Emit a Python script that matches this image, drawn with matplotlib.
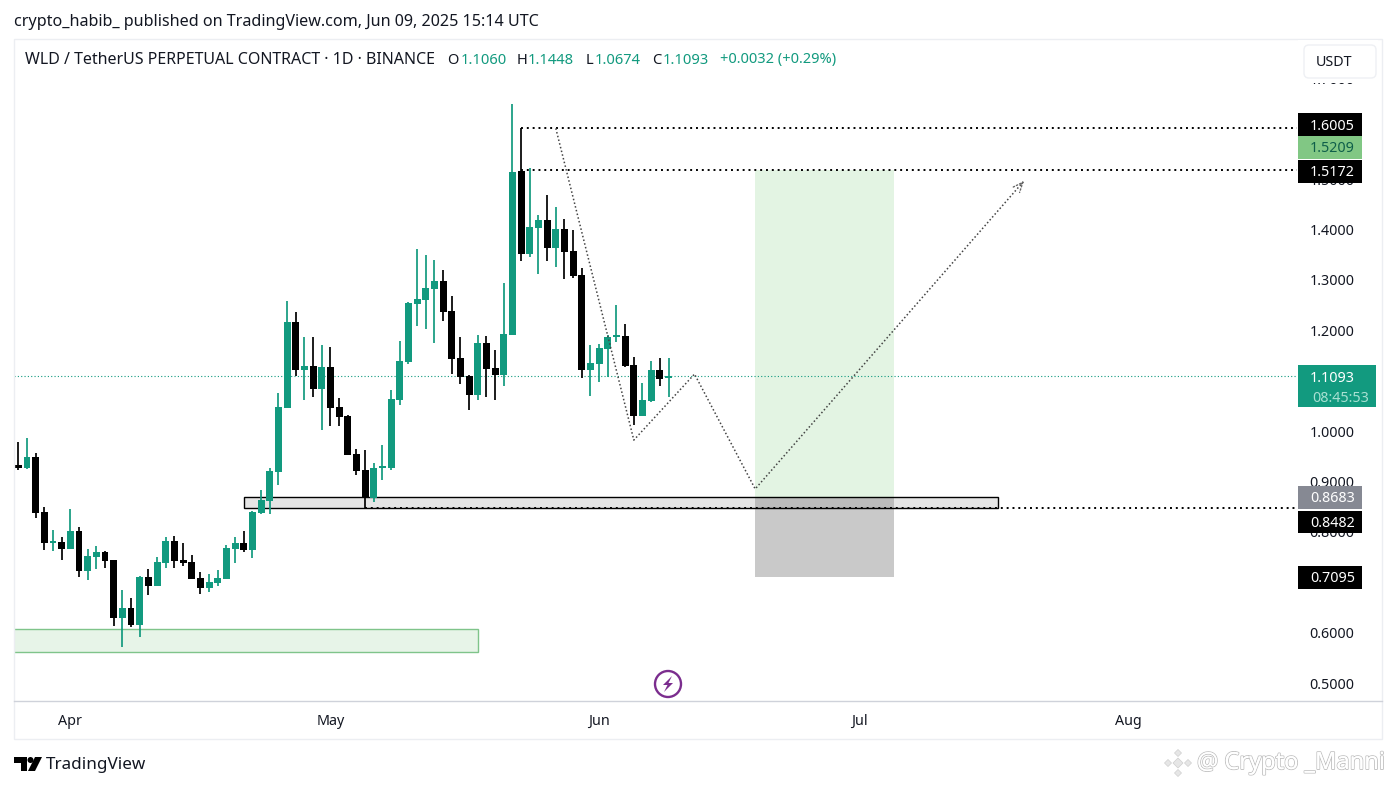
import matplotlib
matplotlib.use("Agg")
import pandas as pd
from matplotlib import pyplot as plt
from matplotlib import dates as mdates
from matplotlib import patheffects as pe
from matplotlib.patches import Rectangle, FancyBboxPatch, Circle, Polygon

plt.rcParams['font.family'] = ['Noto Sans', 'DejaVu Sans']

W, H = 1396, 787
GREEN = "#129a7f"
INK = "#131722"

START_DATE = "2025-03-26"
OPENS = [.933, .927, .949, .839, .778, .780, .766, .802, .722, .750, .760, .744, .629, .649, .615, .711,
         .693, .738, .782, .744, .740, .708, .689, .699, .707, .766, .778, .764, .838, .861, .919, 1.046,
         1.216, 1.121, 1.129, 1.084, 1.127, 1.048, 1.030, .955, .923, .867, .927, .927, 1.062, 1.137,
         1.252, 1.260, 1.282, 1.298, 1.238, 1.145, 1.109, 1.072, 1.175, 1.125, 1.111, 1.191, 1.516, 1.351,
         1.403, 1.419, 1.363, 1.401, 1.357, 1.310, 1.121, 1.133, 1.163, 1.187, 1.189, 1.131, 1.030, 1.060,
         1.121, 1.106]
HIGHS = [.979, .987, .956, .850, .804, .790, .846, .810, .766, .772, .762, .745, .685, .669, .712, .726,
         .750, .790, .792, .778, .754, .720, .716, .724, .774, .790, .802, .841, .883, .926, 1.076, 1.258,
         1.236, 1.187, 1.187, 1.171, 1.167, 1.066, 1.032, .965, .963, .936, .973, 1.082, 1.179, 1.256,
         1.361, 1.349, 1.339, 1.320, 1.268, 1.187, 1.111, 1.191, 1.189, 1.161, 1.294, 1.649, 1.6005, 1.522,
         1.429, 1.468, 1.445, 1.421, 1.399, 1.324, 1.171, 1.173, 1.191, 1.250, 1.213, 1.147, 1.096, 1.139,
         1.145, 1.1448]
LOWS = [.923, .925, .828, .764, .762, .744, .765, .711, .705, .726, .728, .613, .572, .611, .592, .675,
        .692, .728, .728, .732, .706, .677, .681, .693, .706, .738, .760, .748, .836, .836, .893, 1.045,
        1.109, 1.062, 1.068, 1.002, 1.010, 1.010, .952, .913, .8482, .859, .903, .923, 1.052, 1.133,
        1.208, 1.203, 1.174, 1.218, 1.113, 1.093, 1.042, 1.062, 1.068, 1.062, 1.090, 1.190, 1.338, 1.345,
        1.312, 1.338, 1.326, 1.302, 1.304, 1.106, 1.070, 1.098, 1.108, 1.177, 1.127, 1.012, 1.030, 1.058,
        1.090, 1.0674]
CLOSES = [.927, .949, .838, .777, .780, .766, .802, .722, .752, .760, .742, .629, .649, .615, .711, .693,
          .740, .782, .742, .738, .707, .689, .701, .708, .768, .778, .764, .839, .863, .921, 1.048, 1.216,
          1.122, 1.129, 1.084, 1.127, 1.046, 1.028, .953, .921, .867, .927, .929, 1.064, 1.139, 1.254,
          1.262, 1.284, 1.298, 1.236, 1.143, 1.107, 1.072, 1.175, 1.123, 1.111, 1.193, 1.514, 1.351, 1.405,
          1.419, 1.363, 1.401, 1.355, 1.308, 1.121, 1.135, 1.165, 1.187, 1.189, 1.129, 1.030, 1.062, 1.121,
          1.104, 1.1093]

PRICE_TICKS = [0.5, 0.6, 0.7, 0.8, 0.9, 1.0, 1.1, 1.2, 1.3, 1.4, 1.5, 1.6, 1.7]
LAST_PRICE = 1.1093
TARGET = 1.5172
HIGH_LINE = 1.6005
ENTRY = 0.8683
SUPPORT = 0.8482
STOP = 0.7095

ZIGZAG_DATES = ["2025-05-27", "2025-06-05", "2025-06-12", "2025-06-19", "2025-07-20"]
ZIGZAG_PRICES = [1.6005, 0.982, 1.113, 0.885, 1.496]


dates = pd.date_range(START_DATE, periods=len(OPENS))
x = mdates.date2num(dates)
num = lambda s: mdates.date2num(pd.Timestamp(s))

fig = plt.figure(figsize=(W / 100, H / 100), dpi=100, facecolor="white")
ax = fig.add_axes([14 / W, 1 - 701 / H, (1297 - 14) / W, (701 - 39) / H])
ax.set_xlim(x[0] - 0.5, x[0] + 147.5)
ax.set_ylim(0.4643, 1.7778)
xmax = ax.get_xlim()[1]

# candles
colors = [GREEN if c >= o else "black" for o, c in zip(OPENS, CLOSES)]
ax.vlines(x, LOWS, HIGHS, colors=colors, linewidth=1.25, zorder=5)
ax.bar(x, [max(abs(c - o), 0.003) for o, c in zip(OPENS, CLOSES)], bottom=[min(o, c) for o, c in zip(OPENS, CLOSES)],
       width=0.8, color=colors, linewidth=0, zorder=6)

# zones
ax.add_patch(Rectangle((x[0] - 1, 0.5615), num("2025-05-18") - x[0] + 1, 0.6071 - 0.5615,
                       facecolor="#e7f4e8", edgecolor="#7fc48a", linewidth=1, zorder=2))
ax.add_patch(Rectangle((num("2025-06-19"), ENTRY), num("2025-07-05") - num("2025-06-19"), TARGET - ENTRY,
                       facecolor="#e3f4e3", edgecolor="none", zorder=1))
ax.add_patch(Rectangle((num("2025-06-19"), STOP), num("2025-07-05") - num("2025-06-19"), ENTRY - STOP,
                       facecolor="#c9c9c9", edgecolor="none", zorder=1))
ax.add_patch(Rectangle((num("2025-04-21"), SUPPORT), num("2025-07-17") - num("2025-04-21"), ENTRY - SUPPORT,
                       facecolor=(0.6, 0.6, 0.6, 0.25), edgecolor="black", linewidth=1, zorder=3))

# level lines
dots = (0, (1, 2))
ax.hlines(HIGH_LINE, num("2025-05-23"), xmax, colors="black", linewidth=1.4, linestyles=[dots], zorder=4)
ax.hlines(TARGET, num("2025-05-23"), xmax, colors="black", linewidth=1.4, linestyles=[dots], zorder=4)
ax.hlines(SUPPORT, num("2025-05-05"), xmax, colors="black", linewidth=1.4, linestyles=[dots], zorder=4)
ax.axhline(LAST_PRICE, color=GREEN, linewidth=0.8, linestyle=dots, zorder=1)

# projected path
zx = [num(d) for d in ZIGZAG_DATES]
ax.plot(zx, ZIGZAG_PRICES, color="#444444", linewidth=1.1, linestyle=(0, (1, 1.5)), zorder=7)
ax.annotate("", xy=(zx[-1], ZIGZAG_PRICES[-1]), xytext=(zx[-1] - 0.3, ZIGZAG_PRICES[-1] - 0.006),
            arrowprops=dict(arrowstyle="->,head_width=0.3,head_length=0.7", color="#666666", shrinkA=0, shrinkB=0,
                            lw=1.0, linestyle=(0, (1, 1.5))), zorder=7)

# axes
for side in ["top", "left", "right", "bottom"]:
    ax.spines[side].set_visible(False)
ax.yaxis.tick_right()
ax.set_yticks(PRICE_TICKS)
ax.set_yticklabels([f"{p:.4f}" for p in PRICE_TICKS])
ax.tick_params(axis="y", length=0, pad=9, labelsize=10.3, labelcolor=INK)
ax.xaxis.set_major_locator(mdates.MonthLocator())
ax.xaxis.set_major_formatter(mdates.DateFormatter("%b"))
ax.tick_params(axis="x", length=0, pad=9.5, labelsize=10.3, labelcolor=INK)
for label in ax.get_xticklabels():
    label.set_fontweight("bold")

# everything around the chart, in pixels
ov = fig.add_axes([0, 0, 1, 1], zorder=5)
ov.set_xlim(0, W)
ov.set_ylim(H, 0)
ov.axis("off")
ov.patch.set_alpha(0)

ov.add_patch(Rectangle((14, 39), 1368, 700, fill=False, edgecolor="#eceef2", linewidth=1))
ov.plot([14, 1382], [701, 701], color="#cfd2da", linewidth=1)
ov.add_patch(Rectangle((1298, 40), 80, 43, facecolor="white", edgecolor="none"))
ov.add_patch(FancyBboxPatch((1307, 48), 66, 27, boxstyle="round,pad=3,rounding_size=5",
                            facecolor="white", edgecolor="#eef0f4", linewidth=1))
ov.text(1334, 62, "USDT", ha="center", va="center", fontsize=10.3, color=INK)


def tag(y0, y1, label, bg, fg="white", right=1362):
    ov.add_patch(Rectangle((1298, y0), right - 1298, y1 - y0, facecolor=bg, edgecolor="none"))
    ov.text(1355, (y0 + y1) / 2 + 1.5, label, ha="right", va="center", fontsize=10.3, color=fg)


tag(113, 136, f"{HIGH_LINE:.4f}", "black")
tag(136, 159, "1.5209", "#81c784", "#0f5f4a")
tag(160, 183, f"{TARGET:.4f}", "black")
tag(486, 509, f"{ENTRY:.4f}", "#868993")
tag(511, 533, f"{SUPPORT:.4f}", "black")
tag(566, 589, f"{STOP:.4f}", "black")
ov.add_patch(Rectangle((1298, 365), 78, 42, facecolor=GREEN, edgecolor="none"))
ov.text(1355, 378, f"{LAST_PRICE:.4f}", ha="right", va="center", fontsize=10.3, color="white")
ov.text(1369, 398, "08:45:53", ha="right", va="center", fontsize=10.3, color="#a8e0d2")

# header
ov.text(14, 22, "crypto_habib_ published on TradingView.com, Jun 09, 2025 15:14 UTC",
        ha="left", va="center", fontsize=11.6, color=INK)
ov.text(25, 60, "WLD / TetherUS PERPETUAL CONTRACT · 1D · BINANCE", ha="left", va="center", fontsize=11.5, color=INK)
for xp, s, col in [(447, "O", INK), (461, "1.1060", GREEN), (517, "H", INK), (528, "1.1448", GREEN),
                   (586, "L", INK), (595, "1.0674", GREEN), (652, "C", INK), (663, "1.1093", GREEN),
                   (720, "+0.0032 (+0.29%)", GREEN)]:
    ov.text(xp, 60, s, ha="left", va="center", fontsize=10.6 if s[0] != "+" else 10.5, color=col)

# lightning button
ov.add_patch(Circle((668, 684), 13, fill=False, edgecolor="#7b2d8e", linewidth=1.7))
ov.add_patch(Polygon([(672, 676), (663, 685), (667.5, 685), (664, 692), (673, 683), (668.5, 683)],
                     color="#7b2d8e", lw=0))

# logo and footer
ov.add_patch(Polygon([(14, 757), (27, 757), (27, 771), (21, 771), (21, 763), (14, 763)], color="black", lw=0))
ov.add_patch(Circle((30.5, 760), 3, color="black", lw=0))
ov.add_patch(Polygon([(35, 757), (42, 757), (35, 771), (28, 771)], color="black", lw=0))
ov.text(46, 765, "TradingView", ha="left", va="center", fontsize=12.3, color=INK)

# watermark
for cx, cy, r in [(1178, 763, 5), (1178, 753, 3.5), (1178, 773, 3.5), (1168, 763, 3.5), (1188, 763, 3.5)]:
    ov.add_patch(Polygon([(cx, cy - r), (cx + r, cy), (cx, cy + r), (cx - r, cy)], facecolor="#e6e6e6",
                         edgecolor="#cfcfcf", lw=0.5))
ov.text(1197, 763, "@ Crypto _Manni", ha="left", va="center", fontsize=17, color="white",
        path_effects=[pe.withStroke(linewidth=1.3, foreground="#c0c0c0"), pe.Normal()])

fig.savefig("out.png", dpi=100)
